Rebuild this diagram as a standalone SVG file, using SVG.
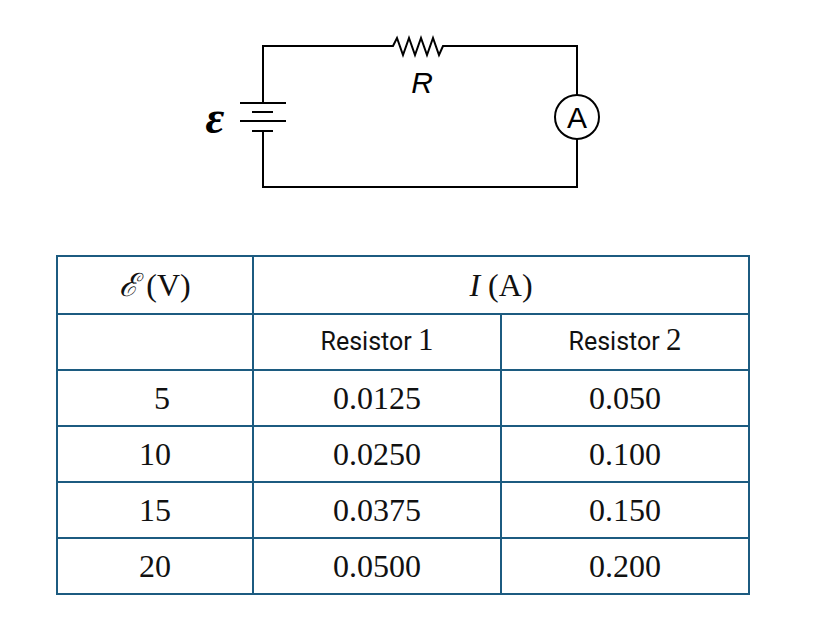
<svg xmlns="http://www.w3.org/2000/svg" width="815" height="623" viewBox="0 0 815 623">
<style>
.w{fill:none;stroke:#000;stroke-width:2}
.t{stroke:#1c5b80;stroke-width:2;fill:none}
.s{font-family:"Liberation Serif",serif;font-size:32px;text-anchor:middle;fill:#111}
.r{font-family:Roboto,"Liberation Sans",sans-serif;font-size:25px;text-anchor:middle;fill:#111}
</style>
<rect width="815" height="623" fill="#fff"/>
<g id="circuit">
<path class="w" d="M263,103 V46 H393 L397,38 L403,55 L409,38 L415,55 L421,38 L427,55 L433,38 L439,55 L443,46 H577 V95 M577,139 V187 H263 V131"/>
<path class="w" d="M240,103 H286 M252,112 H273 M240,121 H286 M252,131 H273"/>
<circle class="w" cx="577" cy="117" r="22"/>
<text x="577" y="128" font-family="Liberation Sans,sans-serif" font-size="30" text-anchor="middle">A</text>
<text x="422" y="93" font-family="Liberation Sans,sans-serif" font-size="30" font-style="italic" text-anchor="middle">R</text>
<text x="215" y="133" font-family="Liberation Serif,serif" font-size="46" font-weight="bold" font-style="italic" text-anchor="middle">ε</text>
</g>
<g id="table">
<rect class="t" x="57" y="256" width="692" height="338"/>
<path class="t" d="M57,314 H749 M253,370 H749 M57,370 H253 M57,426 H749 M57,482 H749 M57,538 H749 M253,256 V594 M501,314 V594"/>
<text class="s" x="155" y="296"><tspan font-style="italic">ℰ</tspan> (V)</text>
<text class="s" x="501" y="296"><tspan font-style="italic">I</tspan> (A)</text>
<text class="r" x="377" y="350">Resistor <tspan font-family="Liberation Serif,serif" font-size="31">1</tspan></text>
<text class="r" x="625" y="350">Resistor <tspan font-family="Liberation Serif,serif" font-size="31">2</tspan></text>
<text class="s" x="162" y="409">5</text><text class="s" x="377" y="409">0.0125</text><text class="s" x="625" y="409">0.050</text>
<text class="s" x="155" y="465">10</text><text class="s" x="377" y="465">0.0250</text><text class="s" x="625" y="465">0.100</text>
<text class="s" x="155" y="521">15</text><text class="s" x="377" y="521">0.0375</text><text class="s" x="625" y="521">0.150</text>
<text class="s" x="155" y="577">20</text><text class="s" x="377" y="577">0.0500</text><text class="s" x="625" y="577">0.200</text>
</g>
</svg>
